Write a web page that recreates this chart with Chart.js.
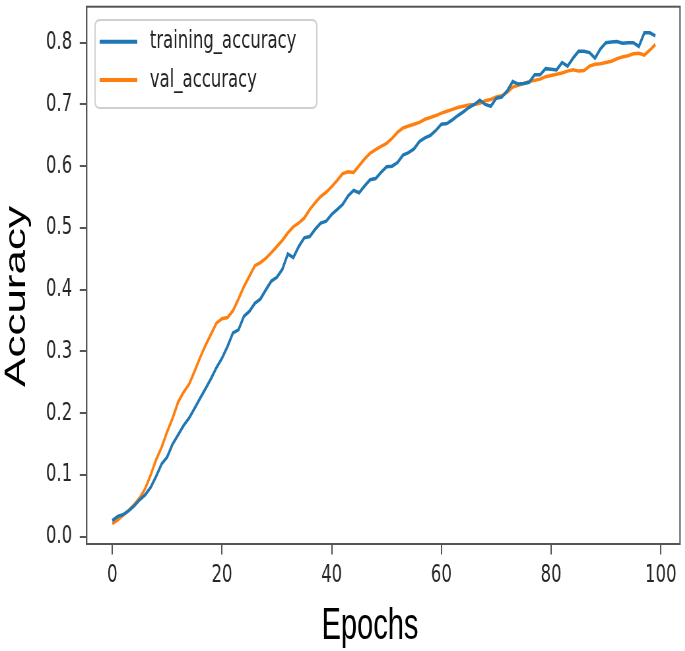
<!DOCTYPE html>
<html>
<head>
<meta charset="utf-8">
<script src="https://cdn.jsdelivr.net/npm/chart.js@4.4.1/dist/chart.umd.min.js"></script>
<style>
  html, body { margin: 0; padding: 0; background: #fff; overflow: hidden; width: 685px; height: 651px; }
  #wrap { width: 1038px; height: 651px; transform: scaleX(0.66); transform-origin: 0 0; }
</style>
</head>
<body>
<div id="wrap"><canvas id="c" width="1038" height="651"></canvas></div>
<script>
const epochs = Array.from({length: 100}, (_, i) => i);

const trainingAccuracy = [
  0.026, 0.033, 0.036, 0.042, 0.050, 0.060, 0.068, 0.080, 0.098, 0.118,
  0.129, 0.150, 0.165, 0.180, 0.192, 0.208, 0.224, 0.240, 0.256, 0.274,
  0.289, 0.308, 0.330, 0.335, 0.357, 0.365, 0.378, 0.385, 0.400, 0.414,
  0.420, 0.433, 0.458, 0.452, 0.470, 0.484, 0.486, 0.498, 0.508, 0.511,
  0.522, 0.530, 0.538, 0.552, 0.561, 0.557, 0.568, 0.578, 0.580, 0.590,
  0.599, 0.600, 0.606, 0.618, 0.622, 0.628, 0.640, 0.646, 0.650, 0.658,
  0.668, 0.669, 0.675, 0.682, 0.688, 0.695, 0.700, 0.707, 0.700, 0.697,
  0.710, 0.712, 0.722, 0.737, 0.733, 0.734, 0.736, 0.748, 0.748, 0.758,
  0.757, 0.756, 0.768, 0.762, 0.775, 0.786, 0.786, 0.784, 0.775, 0.790,
  0.800, 0.801, 0.802, 0.799, 0.800, 0.800, 0.794, 0.816, 0.816, 0.811
];

const valAccuracy = [
  0.021, 0.027, 0.035, 0.043, 0.052, 0.063, 0.078, 0.100, 0.125, 0.145,
  0.170, 0.192, 0.218, 0.234, 0.247, 0.268, 0.290, 0.310, 0.328, 0.346,
  0.353, 0.355, 0.366, 0.385, 0.405, 0.422, 0.439, 0.444, 0.451, 0.460,
  0.470, 0.480, 0.492, 0.502, 0.508, 0.516, 0.530, 0.541, 0.551, 0.558,
  0.567, 0.577, 0.588, 0.591, 0.590, 0.601, 0.612, 0.621, 0.627, 0.632,
  0.637, 0.645, 0.655, 0.662, 0.665, 0.668, 0.671, 0.676, 0.679, 0.682,
  0.686, 0.689, 0.692, 0.695, 0.697, 0.699, 0.700, 0.702, 0.706, 0.708,
  0.712, 0.714, 0.720, 0.728, 0.731, 0.734, 0.737, 0.739, 0.741, 0.745,
  0.747, 0.749, 0.751, 0.754, 0.756, 0.754, 0.755, 0.762, 0.765, 0.766,
  0.768, 0.770, 0.774, 0.777, 0.779, 0.782, 0.783, 0.780, 0.788, 0.797
];

const seriesNames = ['training_accuracy', 'val_accuracy'];
const seriesColors = ['#1f77b4', '#ff7f0e'];

const xTicks = [0, 20, 40, 60, 80, 100];
const xTickLabels = ['0', '20', '40', '60', '80', '100'];
const yTicks = [0.0, 0.1, 0.2, 0.3, 0.4, 0.5, 0.6, 0.7, 0.8];
const yTickLabels = ['0.0', '0.1', '0.2', '0.3', '0.4', '0.5', '0.6', '0.7', '0.8'];

const xTitle = 'Epochs';
const yTitle = 'Accuracy';

const spineColor = '#555555';
const tickFont = { family: 'DejaVu Sans', size: 25 };

const framePlugin = {
  id: 'frame',
  afterDraw(chart) {
    const ctx = chart.ctx;
    const a = chart.chartArea;
    ctx.save();
    ctx.strokeStyle = spineColor;
    ctx.lineWidth = 2;
    ctx.strokeRect(a.left, a.top, a.right - a.left, a.bottom - a.top);

    const lx = 144, ly = 20, lw = 336, lh = 88, r = 7;
    ctx.beginPath();
    ctx.moveTo(lx + r, ly);
    ctx.lineTo(lx + lw - r, ly);
    ctx.quadraticCurveTo(lx + lw, ly, lx + lw, ly + r);
    ctx.lineTo(lx + lw, ly + lh - r);
    ctx.quadraticCurveTo(lx + lw, ly + lh, lx + lw - r, ly + lh);
    ctx.lineTo(lx + r, ly + lh);
    ctx.quadraticCurveTo(lx, ly + lh, lx, ly + lh - r);
    ctx.lineTo(lx, ly + r);
    ctx.quadraticCurveTo(lx, ly, lx + r, ly);
    ctx.closePath();
    ctx.fillStyle = 'rgba(255,255,255,0.85)';
    ctx.fill();
    ctx.strokeStyle = '#d0d0d0';
    ctx.lineWidth = 2;
    ctx.stroke();

    const rows = [41.7, 80];
    chart.data.datasets.forEach((ds, i) => {
      const y = rows[i];
      ctx.strokeStyle = ds.borderColor;
      ctx.lineWidth = 4;
      ctx.beginPath();
      ctx.moveTo(151, y);
      ctx.lineTo(208, y);
      ctx.stroke();
      ctx.fillStyle = '#222';
      ctx.font = '25px "DejaVu Sans"';
      ctx.textAlign = 'left';
      ctx.textBaseline = 'middle';
      ctx.fillText(ds.label, 227, y);
    });

    ctx.fillStyle = '#000';
    ctx.font = '44px "Liberation Sans"';
    ctx.textAlign = 'center';
    ctx.textBaseline = 'alphabetic';
    ctx.fillText(xTitle, 560.6, 639);

    ctx.translate(37.9, 296.5);
    ctx.rotate(-Math.PI / 2);
    ctx.fillText(yTitle, 0, 0);
    ctx.restore();
  }
};

new Chart(document.getElementById('c'), {
  type: 'line',
  data: {
    labels: epochs,
    datasets: [
      { label: seriesNames[0], data: epochs.map((e, i) => ({ x: e, y: trainingAccuracy[i] })),
        borderColor: seriesColors[0], backgroundColor: seriesColors[0], borderWidth: 3.5,
        pointRadius: 0, tension: 0, fill: false },
      { label: seriesNames[1], data: epochs.map((e, i) => ({ x: e, y: valAccuracy[i] })),
        borderColor: seriesColors[1], backgroundColor: seriesColors[1], borderWidth: 3.5,
        pointRadius: 0, tension: 0, fill: false }
    ]
  },
  options: {
    responsive: false,
    animation: false,
    devicePixelRatio: 1,
    layout: { padding: { top: 6.7, right: 7.7, left: 0, bottom: 0 } },
    plugins: { legend: { display: false }, title: { display: false }, tooltip: { enabled: false } },
    scales: {
      x: {
        type: 'linear',
        min: -4.66, max: 103.5,
        afterFit(scale) {
          scale.height = 107;
          scale.paddingLeft = 0; scale.paddingRight = 0; scale.paddingTop = 0; scale.paddingBottom = 0;
        },
        afterBuildTicks(scale) { scale.ticks = xTicks.map(v => ({ value: v })); },
        ticks: {
          font: tickFont, color: '#262626', padding: 6, maxRotation: 0, autoSkip: false,
          callback: (v, i) => xTickLabels[i]
        },
        grid: { drawOnChartArea: false, drawTicks: true, tickLength: 10.5, color: spineColor, lineWidth: 2 },
        border: { display: true, color: spineColor, width: 2 }
      },
      y: {
        type: 'linear',
        min: -0.0118, max: 0.8583,
        afterFit(scale) {
          scale.width = 131.4;
          scale.paddingLeft = 0; scale.paddingRight = 0; scale.paddingTop = 0; scale.paddingBottom = 0;
        },
        afterBuildTicks(scale) { scale.ticks = yTicks.map(v => ({ value: v })); },
        ticks: {
          font: tickFont, color: '#262626', padding: 11.5, autoSkip: false, includeBounds: false,
          callback: (v, i) => yTickLabels[i]
        },
        grid: { drawOnChartArea: false, drawTicks: true, tickLength: 10.6, color: spineColor, lineWidth: 2 },
        border: { display: true, color: spineColor, width: 2 }
      }
    }
  },
  plugins: [framePlugin]
});
</script>
</body>
</html>
